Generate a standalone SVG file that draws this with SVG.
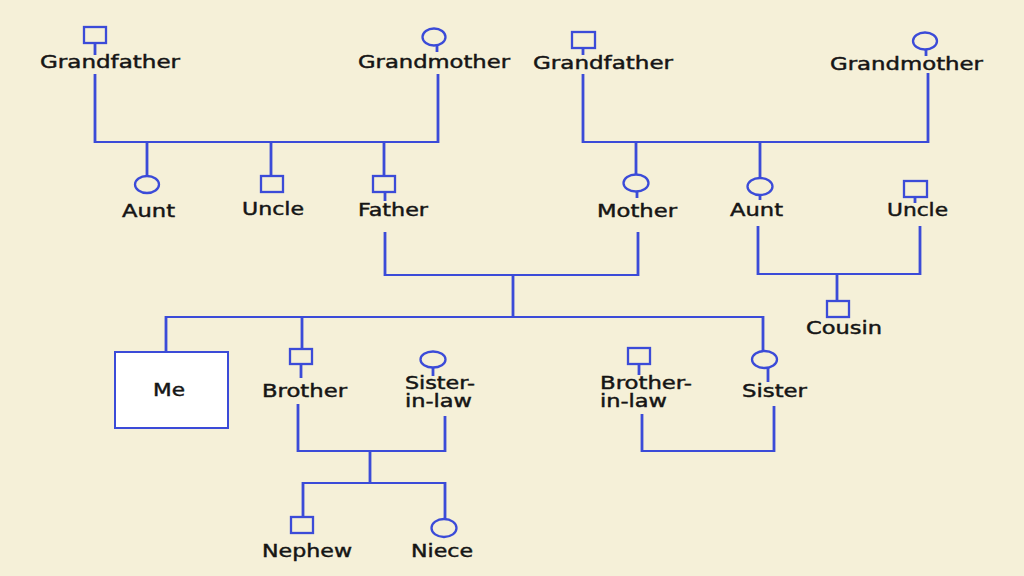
<svg xmlns="http://www.w3.org/2000/svg" width="1024" height="576" viewBox="0 0 1024 576">
<style>
.bg{fill:#F5F0D8}
.h{fill:none;stroke:#3B4BD8;stroke-width:2}
.v{fill:none;stroke:#3B4BD8;stroke-width:2.8}
.sh{fill:none;stroke:#3B4BD8;stroke-width:2.3}
.me{fill:#FFFFFF;stroke:#3B4BD8;stroke-width:2}
text{font-family:"DejaVu Sans","Liberation Sans",sans-serif;font-size:17.5px;fill:#151515;stroke:#151515;stroke-width:0.45}
</style>
<rect class="bg" x="0" y="0" width="1024" height="576"/>
<g id="connectors">
<path class="h" d="M94,142 H439 M582,142 H929 M384,275 H639 M165,317 H764 M757,274 H921 M297,451 H446 M302,483 H446 M641,451 H775"/>
<path class="v" d="M95,74 V143 M438,74 V143 M147,142 V176 M271,142 V176 M384,142 V176"/>
<path class="v" d="M583,74 V143 M928,73 V143 M636,142 V175 M760,142 V178"/>
<path class="v" d="M385,232 V276 M638,232 V276 M513,275 V317"/>
<path class="v" d="M166,316 V351 M763,316 V351 M302,316 V349"/>
<path class="v" d="M758,226 V275 M920,226 V275 M837,274 V301"/>
<path class="v" d="M298,404 V452 M445,416 V452 M370,451 V483 M303,482 V517 M445,482 V519"/>
<path class="v" d="M642,414 V452 M774,406 V452"/>
</g>
<g id="grandfather-paternal"><rect class="sh" x="84" y="27" width="22" height="16"/><path class="v" d="M95,43 V55"/><text x="40" y="68" textLength="140" lengthAdjust="spacingAndGlyphs">Grandfather</text></g>
<g id="grandmother-paternal"><ellipse class="sh" cx="434" cy="37" rx="11.5" ry="8.5"/><path class="v" d="M437,45.5 V52"/><text x="358" y="68" textLength="152" lengthAdjust="spacingAndGlyphs">Grandmother</text></g>
<g id="grandfather-maternal"><rect class="sh" x="572" y="32" width="23" height="16"/><path class="v" d="M583,48 V55"/><text x="533" y="69" textLength="140" lengthAdjust="spacingAndGlyphs">Grandfather</text></g>
<g id="grandmother-maternal"><ellipse class="sh" cx="925" cy="41" rx="12" ry="8.5"/><path class="v" d="M926,49.5 V56"/><text x="830" y="70" textLength="153" lengthAdjust="spacingAndGlyphs">Grandmother</text></g>
<g id="aunt-paternal"><ellipse class="sh" cx="147" cy="184.5" rx="12" ry="8.5"/><text x="122" y="217" textLength="53" lengthAdjust="spacingAndGlyphs">Aunt</text></g>
<g id="uncle-paternal"><rect class="sh" x="261" y="176" width="22" height="16"/><text x="242" y="215" textLength="62" lengthAdjust="spacingAndGlyphs">Uncle</text></g>
<g id="father"><rect class="sh" x="373" y="176" width="22" height="16"/><path class="v" d="M385,192 V201"/><text x="358" y="216" textLength="70" lengthAdjust="spacingAndGlyphs">Father</text></g>
<g id="mother"><ellipse class="sh" cx="636" cy="183" rx="12.5" ry="8.5"/><path class="v" d="M637,191.5 V198"/><text x="597" y="217" textLength="80" lengthAdjust="spacingAndGlyphs">Mother</text></g>
<g id="aunt-maternal"><ellipse class="sh" cx="760" cy="186.5" rx="12.5" ry="8.5"/><path class="v" d="M760,195 V200"/><text x="730" y="216" textLength="53" lengthAdjust="spacingAndGlyphs">Aunt</text></g>
<g id="uncle-maternal"><rect class="sh" x="904" y="181" width="23" height="16"/><path class="v" d="M915,197 V203"/><text x="887" y="216" textLength="61" lengthAdjust="spacingAndGlyphs">Uncle</text></g>
<g id="cousin"><rect class="sh" x="827" y="301" width="22" height="16"/><text x="806" y="334" textLength="76" lengthAdjust="spacingAndGlyphs">Cousin</text></g>
<g id="me"><rect class="me" x="115" y="352" width="113" height="76"/><text x="153" y="396" textLength="32" lengthAdjust="spacingAndGlyphs">Me</text></g>
<g id="brother"><rect class="sh" x="290" y="349" width="22" height="15"/><path class="v" d="M301,364 V378"/><text x="262" y="397" textLength="85" lengthAdjust="spacingAndGlyphs">Brother</text></g>
<g id="sister-in-law"><ellipse class="sh" cx="433" cy="359.5" rx="12.5" ry="8"/><path class="v" d="M433,367.5 V376"/><text x="405" y="389" textLength="70" lengthAdjust="spacingAndGlyphs">Sister-</text><text x="405" y="407" textLength="67" lengthAdjust="spacingAndGlyphs">in-law</text></g>
<g id="brother-in-law"><rect class="sh" x="628" y="348" width="22" height="16"/><path class="v" d="M639,364 V375"/><text x="600" y="389" textLength="92" lengthAdjust="spacingAndGlyphs">Brother-</text><text x="600" y="407" textLength="67" lengthAdjust="spacingAndGlyphs">in-law</text></g>
<g id="sister"><ellipse class="sh" cx="764.5" cy="359.5" rx="12.5" ry="8.5"/><path class="v" d="M768,368 V382"/><text x="742" y="397" textLength="65" lengthAdjust="spacingAndGlyphs">Sister</text></g>
<g id="nephew"><rect class="sh" x="291" y="517" width="22" height="16"/><text x="262" y="557" textLength="90" lengthAdjust="spacingAndGlyphs">Nephew</text></g>
<g id="niece"><ellipse class="sh" cx="444" cy="528" rx="12.5" ry="9"/><text x="411" y="557" textLength="62" lengthAdjust="spacingAndGlyphs">Niece</text></g>
</svg>
